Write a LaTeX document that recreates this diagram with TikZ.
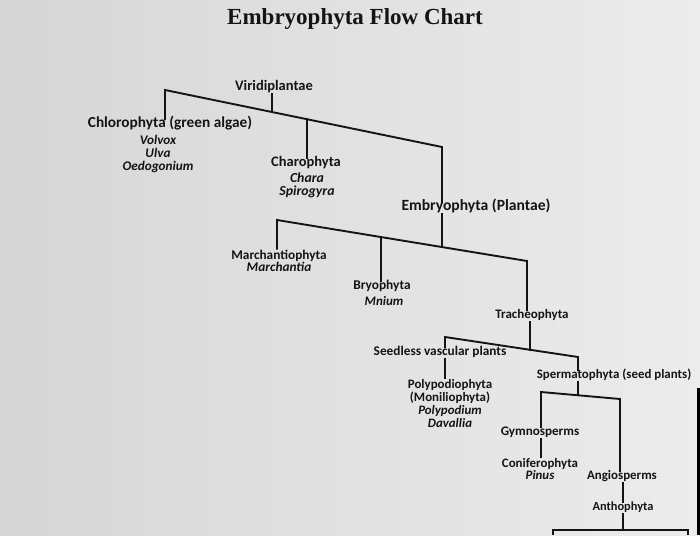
\documentclass[tikz,border=0pt]{standalone}
\usepackage{fontspec}
\setmainfont{Carlito}
\newfontfamily\titlefont{Liberation Serif}
\newcommand{\myfs}[1]{\fontsize{#1}{#1}\selectfont}
\newcommand{\myfsb}[2]{\fontsize{#1}{#2}\selectfont}
\definecolor{ink}{RGB}{20,20,20}
\definecolor{bgl}{RGB}{214,214,214}
\definecolor{bgr}{RGB}{236,236,236}
\tikzset{
  lbl/.style={font=\bfseries\myfs{#1}, text=ink, inner sep=0.8pt, text height=1.55ex, text depth=0.45ex},
  lbl/.default=13,
  sp/.style={font=\bfseries\itshape\myfs{#1}, text=ink, inner sep=0.8pt, text height=1.55ex, text depth=0.45ex},
  sp/.default=13,
  grp/.style={text=ink, inner sep=0.8pt, align=center, anchor=base},
  br/.style={draw=ink, line width=1.9pt, line cap=rect, line join=miter}
}
\begin{document}
\begin{tikzpicture}[x=1pt,y=-1pt]
\shade[left color=bgl, right color=bgr] (0,0) rectangle (700,535);
\useasboundingbox (0,0) rectangle (700,535);
\fill[black] (697,388) rectangle (700,535);

% title
\node[font=\titlefont\bfseries\myfs{23}, text=ink] (title) at (355,19) {Embryophyta Flow Chart};

% --- Viridiplantae
\coordinate (v1) at (165,90);
\coordinate (v2) at (442,147);
\coordinate (vj) at (272,112);
\coordinate (cj) at (307,119);
\node[lbl=14.5] (vir) at (274,88) {Viridiplantae};
\node[lbl=15.3] (chl) at (170,125) {Chlorophyta (green algae)};
\node[grp, font=\bfseries\itshape\myfsb{13.2}{12.6}] (chlsp) at (158,170) {Volvox\\Ulva\\Oedogonium};
\node[lbl=14.5] (cha) at (306,164) {Charophyta};
\node[grp, font=\bfseries\itshape\myfsb{13.8}{13}] (chasp) at (307,195) {Chara\\Spirogyra};
\node[lbl=15.6] (emb) at (476,208) {Embryophyta (Plantae)};

\draw[br] (v1 |- chl.north) -- (v1) -- (v2) -- (v2 |- emb.north);
\draw[br] (vir.south -| vj) -- (vj);
\draw[br] (cj) -- (cj |- cha.north);

% --- Embryophyta
\coordinate (e1) at (277,220);
\coordinate (e2) at (527,261);
\coordinate (ej) at (442,247);
\coordinate (bj) at (381,237);
\node[grp, font=\bfseries\myfsb{13.3}{12}] (mar) at (279,271) {Marchantiophyta\\\itshape Marchantia};
\node[lbl=13.4] (bry) at (382,287) {Bryophyta};
\node[sp=13] (mnium) at (384,303) {Mnium};
\node[lbl=13] (tra) at (532,316) {Tracheophyta};

\draw[br] (emb.south -| ej) -- (ej);
\draw[br] (e1 |- mar.north) -- (e1) -- (e2) -- (e2 |- tra.north);
\draw[br] (bj) -- (bj |- bry.north);

% --- Tracheophyta
\coordinate (s1) at (445,337);
\coordinate (s2) at (578,357);
\coordinate (tj) at (530,350);
\node[lbl=13.3] (sdl) at (440,353) {Seedless vascular plants};
\node[grp, font=\bfseries\myfsb{12.9}{13}] (poly) at (450,427) {Polypodiophyta\\(Moniliophyta)\\{\itshape Polypodium}\\{\itshape Davallia}};
\node[lbl=12.9] (spe) at (614,376) {Spermatophyta (seed plants)};

\draw[br] (tra.south -| tj) -- (tj);
\draw[br] (s1 |- sdl.north) -- (s1) -- (s2) -- (s2 |- spe.north);
\draw[br] (sdl.south -| s1) -- (poly.north -| s1);

% --- Spermatophyta
\coordinate (g1) at (541,392);
\coordinate (g2) at (620,399);
\coordinate (gj) at (578,395.3);
\node[lbl=13.1] (gym) at (540,433) {Gymnosperms};
\node[grp, font=\bfseries\myfsb{12.9}{12}] (con) at (540,479) {Coniferophyta\\\itshape Pinus};
\node[lbl=12.9] (ang) at (622,477) {Angiosperms};
\node[lbl=12.4] (ant) at (623,508) {Anthophyta};

\draw[br] (spe.south -| gj) -- (gj);
\draw[br] (g1 |- gym.north) -- (g1) -- (g2) -- (g2 |- ang.north);
\draw[br] (gym.south -| g1) -- (con.north -| g1);

% --- Anthophyta
\coordinate (aj) at (623,530);
\coordinate (a1) at (553,530);
\coordinate (a2) at (688,530);
\coordinate (a1b) at (553,535);
\coordinate (a2b) at (688,535);
\draw[br] (ang.south -| aj) -- (ant.north -| aj);
\draw[br] (ant.south -| aj) -- (aj);
\draw[br, line cap=butt] (a1b) -- (a1) -- (a2) -- (a2b);
\end{tikzpicture}
\end{document}
